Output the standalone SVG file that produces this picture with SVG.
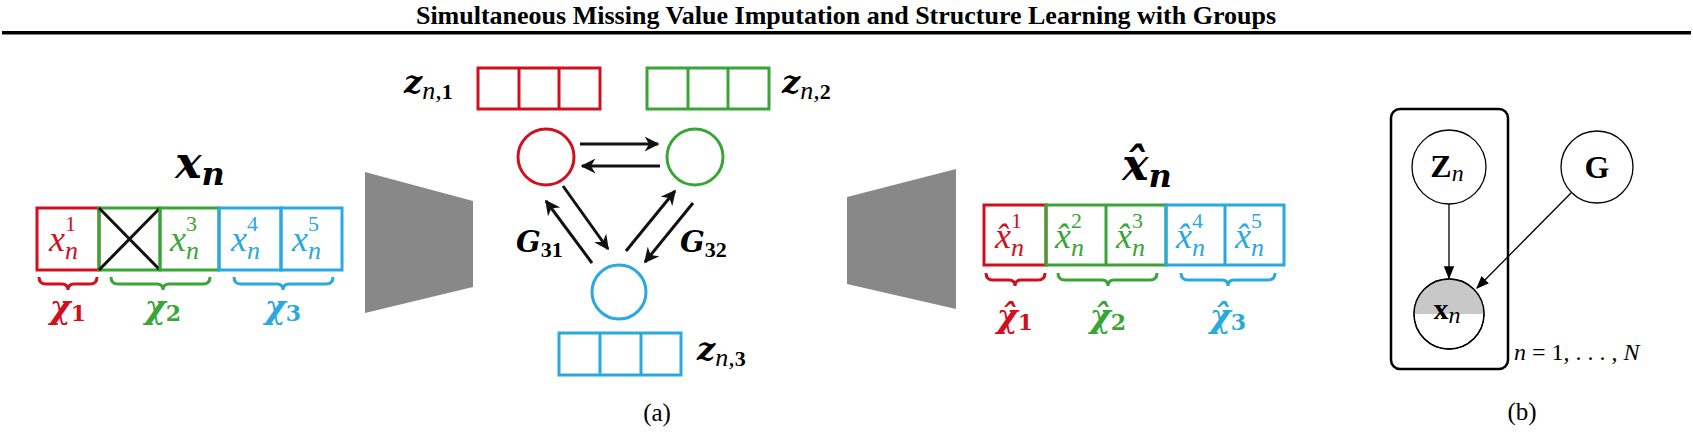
<svg xmlns="http://www.w3.org/2000/svg" width="1693" height="434" viewBox="0 0 1693 434">
<style>
.r{stroke:#d0101e;fill:none;stroke-width:3}
.g{stroke:#3aa537;fill:none;stroke-width:3}
.b{stroke:#2aa8e0;fill:none;stroke-width:3}
.rt{fill:#d0101e}.gt{fill:#3aa537}.bt{fill:#2aa8e0}
.m{font-family:"Liberation Serif",serif;font-style:italic;font-size:36px}
.sup{font-family:"Liberation Serif",serif;font-style:normal;font-size:22px}
.sub{font-family:"Liberation Serif",serif;font-style:italic;font-size:26px;font-weight:normal}
.bi{font-family:"DejaVu Serif",serif;font-style:italic;font-weight:bold}
.chi{font-family:"DejaVu Serif",serif;font-style:italic;font-weight:bold;font-size:32px}
.rm{font-family:"Liberation Serif",serif;font-size:25px}
.trap{fill:#888}
.ar{stroke:#111;stroke-width:3;fill:none;marker-end:url(#ah)}
.thin{stroke:#000;stroke-width:1.3;fill:none;marker-end:url(#ah2)}
.node{fill:#fff;stroke:#000;stroke-width:1.3}
</style>
<defs>
<marker id="ah" viewBox="0 0 10 10" refX="9" refY="5" markerWidth="5" markerHeight="5" orient="auto" markerUnits="strokeWidth"><path d="M0,0 L10,5 L0,10 L3,5 z" fill="#111"/></marker>
<marker id="ah2" viewBox="0 0 10 10" refX="9" refY="5" markerWidth="10" markerHeight="10" orient="auto" markerUnits="strokeWidth"><path d="M0,1 L10,5 L0,9 z" fill="#000"/></marker>
</defs>
<text x="846" y="24" text-anchor="middle" font-family="Liberation Serif,serif" font-weight="bold" font-size="26">Simultaneous Missing Value Imputation and Structure Learning with Groups</text>
<rect x="2" y="31" width="1689" height="3.5" fill="#000"/>

<g id="input">
<text x="200" y="178" text-anchor="middle" class="bi" font-size="44">x<tspan font-size="32" dy="7">n</tspan></text>
<rect class="r" x="37" y="208" width="62" height="62"/>
<rect class="g" x="99" y="208" width="61" height="62"/>
<line x1="99" y1="208" x2="160" y2="270" stroke="#111" stroke-width="3"/>
<line x1="160" y1="208" x2="99" y2="270" stroke="#111" stroke-width="3"/>
<rect class="g" x="160" y="208" width="59" height="62"/>
<rect class="b" x="219" y="208" width="62" height="62"/>
<rect class="b" x="281" y="208" width="61" height="62"/>
<g class="m">
<text x="49" y="251" class="rt">x<tspan class="sub" dy="8">n</tspan><tspan class="sup" dx="-13" dy="-28">1</tspan></text>
<text x="170" y="251" class="gt">x<tspan class="sub" dy="8">n</tspan><tspan class="sup" dx="-13" dy="-28">3</tspan></text>
<text x="231" y="251" class="bt">x<tspan class="sub" dy="8">n</tspan><tspan class="sup" dx="-13" dy="-28">4</tspan></text>
<text x="292" y="251" class="bt">x<tspan class="sub" dy="8">n</tspan><tspan class="sup" dx="-13" dy="-28">5</tspan></text>
</g>
<path class="r" stroke-width="2.5" d="M39,277 Q39,284 46,284 L62,284 Q68,284 68,290 Q68,284 74,284 L90,284 Q97,284 97,277"/>
<path class="g" stroke-width="2.5" d="M111,277 Q111,284 118,284 L157,284 Q163,284 163,290 Q163,284 169,284 L203,284 Q210,284 210,277"/>
<path class="b" stroke-width="2.5" d="M234,277 Q234,284 241,284 L277,284 Q283,284 283,290 Q283,284 289,284 L326,284 Q333,284 333,277"/>
<text x="68" y="318" text-anchor="middle" class="chi rt">χ<tspan font-style="normal" font-size="22" dy="3">1</tspan></text>
<text x="163" y="318" text-anchor="middle" class="chi gt">χ<tspan font-style="normal" font-size="22" dy="3">2</tspan></text>
<text x="283" y="318" text-anchor="middle" class="chi bt">χ<tspan font-style="normal" font-size="22" dy="3">3</tspan></text>
</g>

<g id="encoder"><polygon class="trap" points="365,172 473,201 473,287 365,313"/></g>
<g id="decoder"><polygon class="trap" points="847,197 956,169 956,309 847,284"/></g>

<g id="z1">
<rect class="r" x="478" y="68" width="122" height="41"/>
<line class="r" x1="519" y1="68" x2="519" y2="109"/><line class="r" x1="559" y1="68" x2="559" y2="109"/>
<text x="404" y="93" class="bi" font-size="32">z<tspan class="sub" dy="6">n,</tspan><tspan class="sup" font-size="25">1</tspan></text>
<circle class="r" cx="546" cy="157" r="28"/>
</g>
<g id="z2">
<rect class="g" x="647" y="68" width="122" height="41"/>
<line class="g" x1="688" y1="68" x2="688" y2="109"/><line class="g" x1="728" y1="68" x2="728" y2="109"/>
<text x="782" y="93" class="bi" font-size="32">z<tspan class="sub" dy="6">n,</tspan><tspan class="sup" font-size="25">2</tspan></text>
<circle class="g" cx="695" cy="157" r="28"/>
</g>
<g id="z3">
<rect class="b" x="559" y="333" width="122" height="42"/>
<line class="b" x1="600" y1="333" x2="600" y2="375"/><line class="b" x1="641" y1="333" x2="641" y2="375"/>
<text x="697" y="360" class="bi" font-size="32">z<tspan class="sub" dy="6">n,</tspan><tspan class="sup" font-size="25">3</tspan></text>
<circle class="b" cx="619" cy="292" r="27"/>
</g>

<g id="connectors">
<line class="ar" x1="580" y1="144" x2="658" y2="144"/>
<line class="ar" x1="660" y1="166" x2="582" y2="166"/>
<line class="ar" x1="563" y1="186" x2="608" y2="249"/>
<line class="ar" x1="592" y1="263" x2="546" y2="201"/>
<line class="ar" x1="626" y1="251" x2="675" y2="191"/>
<line class="ar" x1="693" y1="203" x2="645" y2="262"/>
<line class="thin" x1="1449" y1="204" x2="1449" y2="278"/>
<line class="thin" x1="1571" y1="193" x2="1477" y2="288"/>
</g>
<text x="516" y="252" class="bi" font-size="29">G<tspan class="sup" font-size="22" dy="5">31</tspan></text>
<text x="680" y="252" class="bi" font-size="29">G<tspan class="sup" font-size="22" dy="5">32</tspan></text>
<text x="657" y="421" text-anchor="middle" class="rm">(a)</text>

<g id="output">
<text x="1147" y="180" text-anchor="middle" class="bi" font-size="44">x̂<tspan font-size="32" dy="7">n</tspan></text>
<rect class="r" x="984" y="205" width="62" height="60"/>
<rect class="g" x="1046" y="205" width="120" height="60"/>
<line class="g" x1="1106" y1="205" x2="1106" y2="265"/>
<rect class="b" x="1166" y="205" width="118" height="60"/>
<line class="b" x1="1225" y1="205" x2="1225" y2="265"/>
<g class="m">
<text x="995" y="248" class="rt">x̂<tspan class="sub" dy="8">n</tspan><tspan class="sup" dx="-13" dy="-28">1</tspan></text>
<text x="1055" y="248" class="gt">x̂<tspan class="sub" dy="8">n</tspan><tspan class="sup" dx="-13" dy="-28">2</tspan></text>
<text x="1116" y="248" class="gt">x̂<tspan class="sub" dy="8">n</tspan><tspan class="sup" dx="-13" dy="-28">3</tspan></text>
<text x="1176" y="248" class="bt">x̂<tspan class="sub" dy="8">n</tspan><tspan class="sup" dx="-13" dy="-28">4</tspan></text>
<text x="1235" y="248" class="bt">x̂<tspan class="sub" dy="8">n</tspan><tspan class="sup" dx="-13" dy="-28">5</tspan></text>
</g>
<path class="r" stroke-width="2.5" d="M986,273 Q986,280 993,280 L1009,280 Q1015,280 1015,286 Q1015,280 1021,280 L1038,280 Q1045,280 1045,273"/>
<path class="g" stroke-width="2.5" d="M1058,273 Q1058,280 1065,280 L1102,280 Q1108,280 1108,286 Q1108,280 1114,280 L1150,280 Q1157,280 1157,273"/>
<path class="b" stroke-width="2.5" d="M1181,273 Q1181,280 1188,280 L1222,280 Q1228,280 1228,286 Q1228,280 1234,280 L1268,280 Q1275,280 1275,273"/>
<text x="1015" y="327" text-anchor="middle" class="chi rt">χ̂<tspan font-style="normal" font-size="22" dy="3">1</tspan></text>
<text x="1108" y="327" text-anchor="middle" class="chi gt">χ̂<tspan font-style="normal" font-size="22" dy="3">2</tspan></text>
<text x="1228" y="327" text-anchor="middle" class="chi bt">χ̂<tspan font-style="normal" font-size="22" dy="3">3</tspan></text>
</g>

<g id="plate"><rect x="1391" y="109" width="117" height="260" rx="9" fill="none" stroke="#000" stroke-width="2.5"/>
<text x="1514" y="360" font-family="Liberation Serif,serif" font-size="24"><tspan font-style="italic">n</tspan> = 1, . . . , <tspan font-style="italic">N</tspan></text></g>
<g id="Zn"><circle class="node" cx="1449" cy="167" r="37"/>
<text x="1447" y="177" text-anchor="middle" font-family="Liberation Serif,serif" font-weight="bold" font-size="32">Z<tspan font-weight="normal" font-style="italic" font-size="24" dy="4">n</tspan></text></g>
<g id="G"><circle class="node" cx="1597" cy="167" r="36"/>
<text x="1597" y="178" text-anchor="middle" font-family="Liberation Serif,serif" font-weight="bold" font-size="32">G</text></g>
<g id="xn"><circle class="node" cx="1449" cy="314" r="35"/>
<path d="M1414,314 A35,35 0 0 1 1484,314 Z" fill="#c8c8c8"/>
<circle cx="1449" cy="314" r="35" fill="none" stroke="#000" stroke-width="1.3"/>
<text x="1447" y="319" text-anchor="middle" font-family="Liberation Serif,serif" font-weight="bold" font-size="30">x<tspan font-weight="normal" font-style="italic" font-size="24" dy="4">n</tspan></text></g>
<text x="1522" y="420" text-anchor="middle" class="rm">(b)</text>
</svg>
